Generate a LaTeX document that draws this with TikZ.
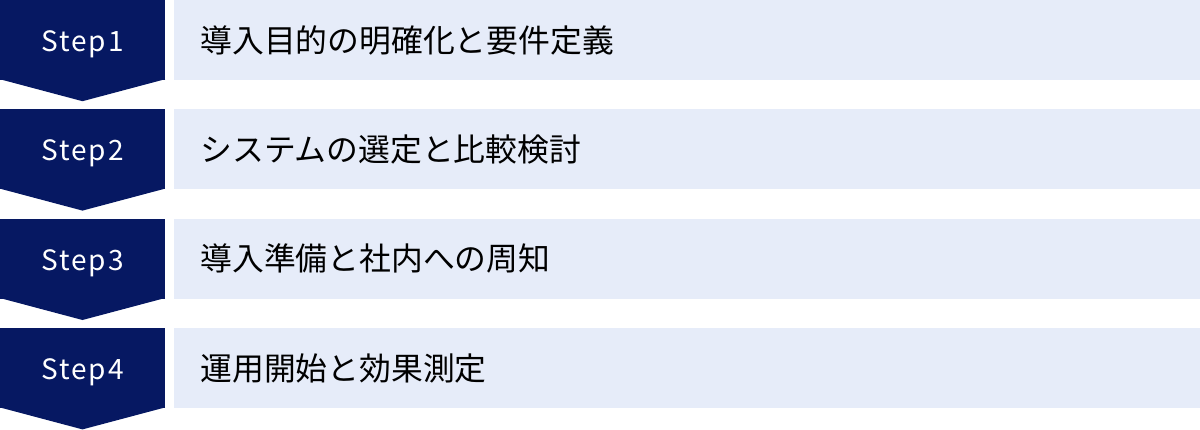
\documentclass[tikz,border=0pt]{standalone}
\usepackage{fontspec}
\setmainfont{Noto Sans CJK JP}
\usepackage{tikz}
\usetikzlibrary{positioning}
\definecolor{stepnavy}{HTML}{061862}
\definecolor{tasklight}{HTML}{E6ECF9}
\tikzstyle{stepbox} = [rectangle, minimum width=165pt, minimum height=80pt, inner sep=0pt, text height=23pt, text depth=0pt, fill=stepnavy, text=white, font=\fontsize{28}{34}\selectfont\addfontfeature{LetterSpace=7}]
\tikzstyle{taskbox} = [rectangle, minimum width=1026pt, minimum height=80pt, text width=974pt, inner xsep=26pt, inner ysep=0pt, align=left, fill=tasklight, text=black, font=\fontsize{31.8}{38}\selectfont]
\tikzstyle{pointer} = [fill=stepnavy]

\begin{document}
\begin{tikzpicture}[x=1pt, y=1pt, node distance=29pt and 9pt]
            \useasboundingbox (0,0) rectangle (1200,-429);
            % Step column
            \node[stepbox] (s1) at (82.5,-40) {Step1};
            \node[stepbox, below=of s1] (s2) {Step2};
            \node[stepbox, below=of s2] (s3) {Step3};
            \node[stepbox, below=of s3] (s4) {Step4};
            % Task column
            \node[taskbox, right=of s1] (t1) {導入目的の明確化と要件定義};
            \node[taskbox, right=of s2] (t2) {システムの選定と比較検討};
            \node[taskbox, right=of s3] (t3) {導入準備と社内への周知};
            \node[taskbox, right=of s4] (t4) {運用開始と効果測定};

            % Pointers under each step
            \fill[pointer] ([yshift=1pt]s1.south west) -- ([yshift=1pt]s1.south east) -- ([yshift=-21pt]s1.south) -- cycle;
            \fill[pointer] ([yshift=1pt]s2.south west) -- ([yshift=1pt]s2.south east) -- ([yshift=-21pt]s2.south) -- cycle;
            \fill[pointer] ([yshift=1pt]s3.south west) -- ([yshift=1pt]s3.south east) -- ([yshift=-21pt]s3.south) -- cycle;
            \fill[pointer] ([yshift=1pt]s4.south west) -- ([yshift=1pt]s4.south east) -- ([yshift=-21pt]s4.south) -- cycle;
        \end{tikzpicture}
\end{document}
